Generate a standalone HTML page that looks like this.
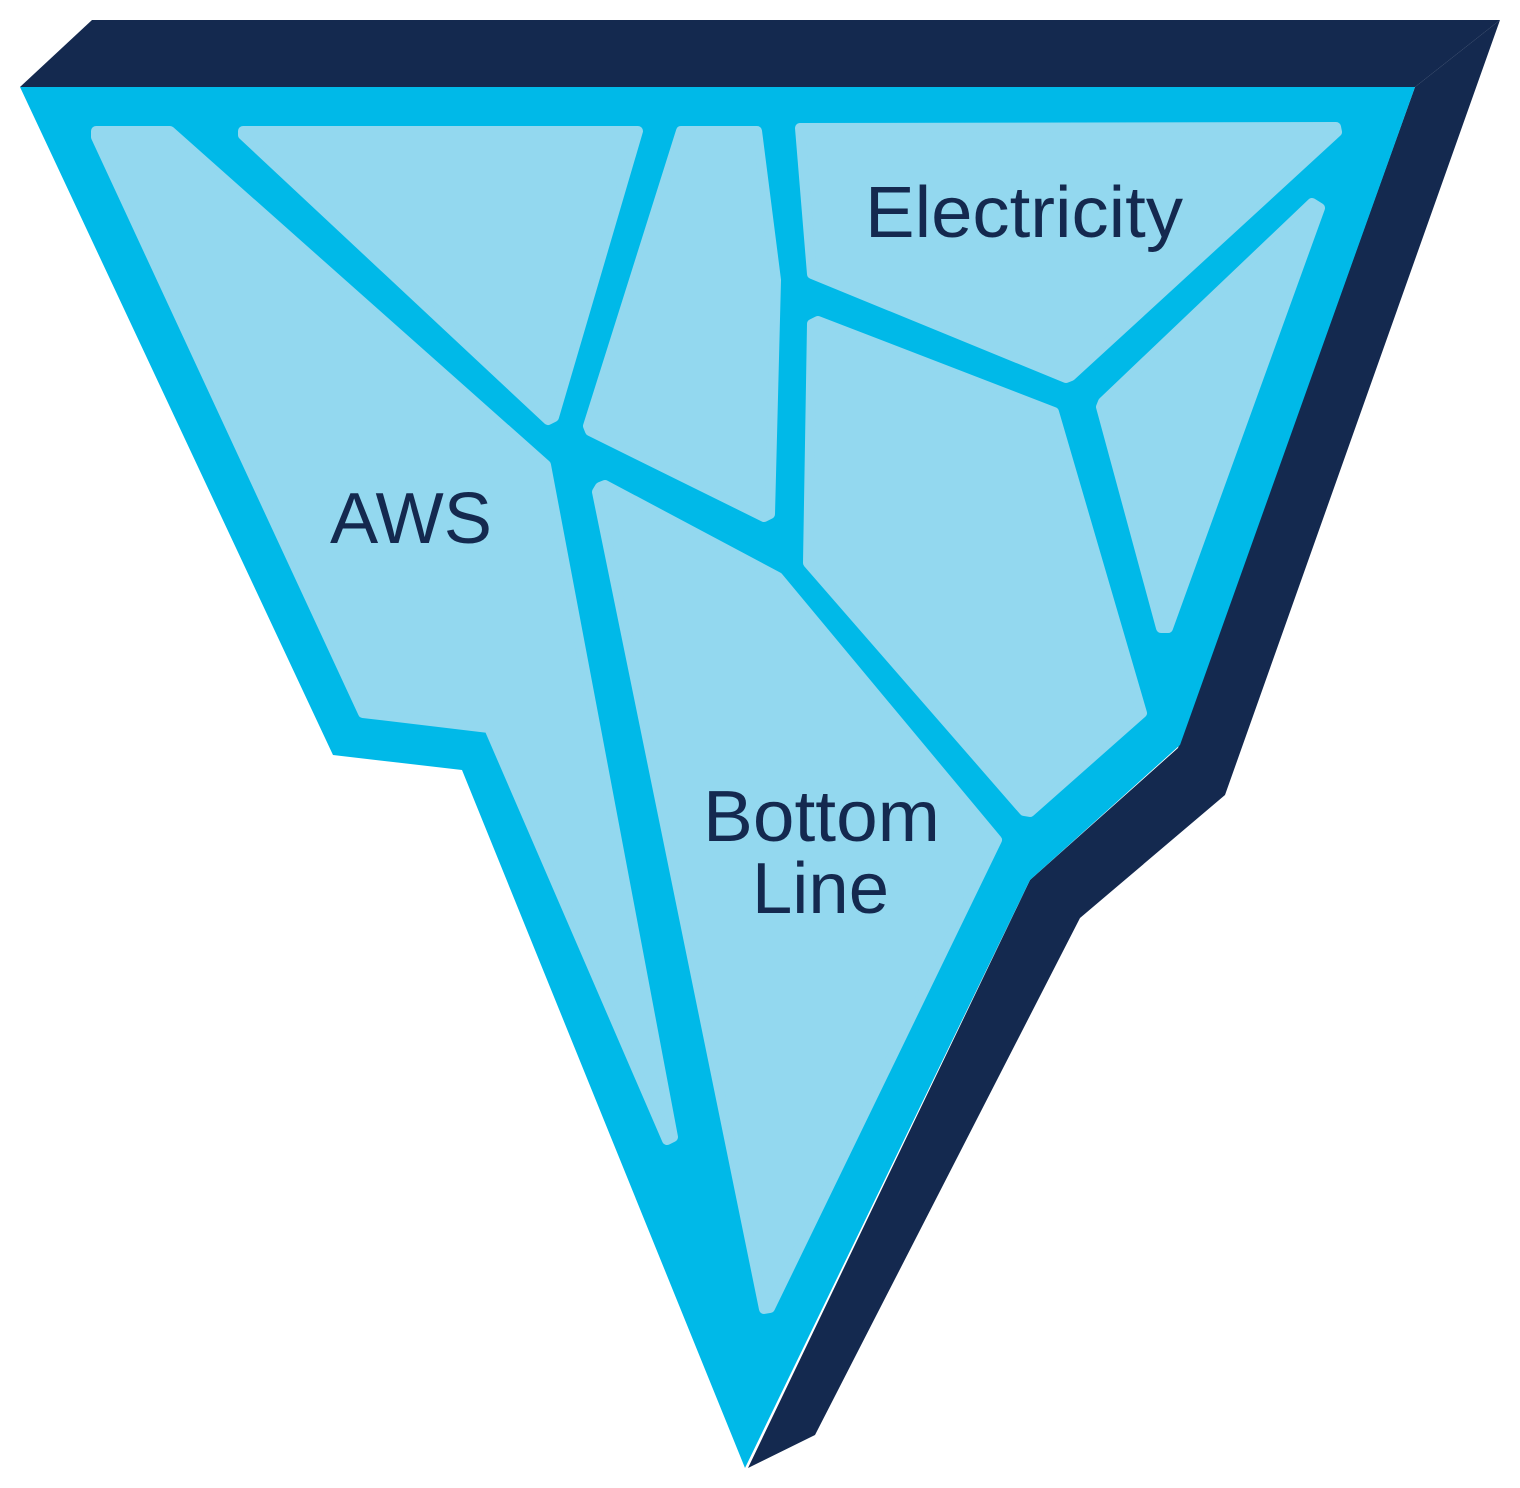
<!DOCTYPE html>
<html><head><meta charset="utf-8"><style>html,body{margin:0;padding:0;background:#fff}svg{display:block}</style></head>
<body>
<svg width="1520" height="1488" viewBox="0 0 1520 1488" xmlns="http://www.w3.org/2000/svg">
<polygon points="20,87 92,20 1500,20 1415,87" fill="#14294f"/>
<polygon points="1415,87 1500,20 1225,795 1080,918 815,1435 748,1468 1030,880 1178,748" fill="#14294f"/>
<polygon points="20,87 1415,87 1180,745 1030,880 745,1468 462,770 333,755" fill="#00b9e8"/>
<g fill="#93d8ef" stroke="#93d8ef" stroke-width="10" stroke-linejoin="round">
<polygon points="96,131 170,131 546,465 673,1137 667,1140 489,728 363,713 96,137"/>
<polygon points="243,131 638,131 554,417 548,420 243,135"/>
<polygon points="681,131 757,131 776,280 770,514 764,517 590,431 588,426"/>
<polygon points="800,128 1336,127 1337,132 1071,376 1066,378 812,274"/>
<polygon points="818,321 1054,412 1142,713 1030,812 1024,811 808,563 812,324"/>
<polygon points="1312,203 1320,208 1168,628 1161,628 1101,407 1103,402"/>
<polygon points="600,487 605,485 778,577 997,840 770,1308 764,1309 597,492"/>
</g>
<g fill="#14294f" font-family="Liberation Sans, sans-serif" font-size="72">
<text x="865" y="237" textLength="318" lengthAdjust="spacingAndGlyphs">Electricity</text>
<text x="330" y="543" textLength="162" lengthAdjust="spacingAndGlyphs">AWS</text>
<text x="703" y="841" textLength="237" lengthAdjust="spacingAndGlyphs">Bottom</text>
<text x="752" y="913" textLength="137" lengthAdjust="spacingAndGlyphs">Line</text>
</g>
</svg>
</body></html>
